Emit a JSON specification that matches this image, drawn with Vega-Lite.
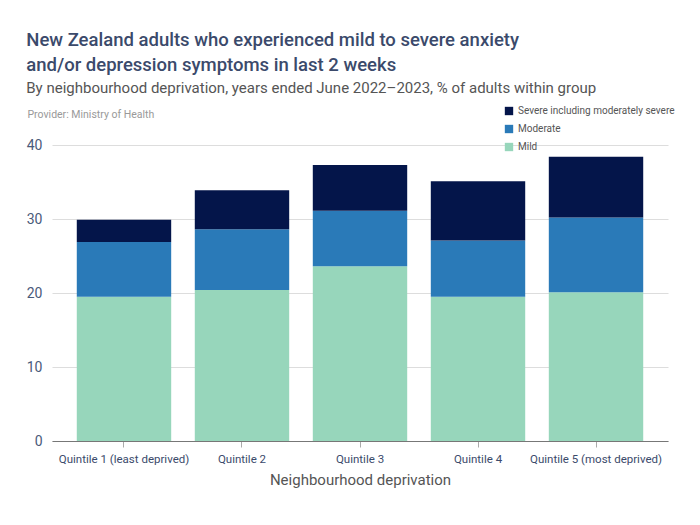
{
  "$schema": "https://vega.github.io/schema/vega-lite/v6.json",
  "autosize": "none",
  "width": 616,
  "height": 296,
  "padding": {"top": 145, "left": 52, "right": 32, "bottom": 84},
  "background": "white",
  "title": {
    "text": ["New Zealand adults who experienced mild to severe anxiety", "and/or depression symptoms in last 2 weeks"],
    "subtitle": "By neighbourhood deprivation, years ended June 2022–2023, % of adults within group",
    "anchor": "start",
    "frame": "bounds",
    "font": "Roboto",
    "fontSize": 18.5,
    "fontWeight": 500,
    "lineHeight": 25,
    "color": "#3b4a6b",
    "subtitleFont": "Roboto",
    "subtitleFontSize": 15,
    "subtitleColor": "#555555",
    "subtitlePadding": 7,
    "offset": 10
  },
  "config": {
    "view": {"stroke": null},
    "font": "Roboto"
  },
  "data": {
    "values": [
      {"group": "Quintile 1 (least deprived)", "category": "Mild", "order": 1, "value": 19.5},
      {"group": "Quintile 1 (least deprived)", "category": "Moderate", "order": 2, "value": 7.4},
      {"group": "Quintile 1 (least deprived)", "category": "Severe including moderately severe", "order": 3, "value": 3.0},
      {"group": "Quintile 2", "category": "Mild", "order": 1, "value": 20.4},
      {"group": "Quintile 2", "category": "Moderate", "order": 2, "value": 8.2},
      {"group": "Quintile 2", "category": "Severe including moderately severe", "order": 3, "value": 5.3},
      {"group": "Quintile 3", "category": "Mild", "order": 1, "value": 23.6},
      {"group": "Quintile 3", "category": "Moderate", "order": 2, "value": 7.5},
      {"group": "Quintile 3", "category": "Severe including moderately severe", "order": 3, "value": 6.2},
      {"group": "Quintile 4", "category": "Mild", "order": 1, "value": 19.5},
      {"group": "Quintile 4", "category": "Moderate", "order": 2, "value": 7.6},
      {"group": "Quintile 4", "category": "Severe including moderately severe", "order": 3, "value": 8.0},
      {"group": "Quintile 5 (most deprived)", "category": "Mild", "order": 1, "value": 20.1},
      {"group": "Quintile 5 (most deprived)", "category": "Moderate", "order": 2, "value": 10.1},
      {"group": "Quintile 5 (most deprived)", "category": "Severe including moderately severe", "order": 3, "value": 8.2}
    ]
  },
  "mark": {"type": "bar"},
  "encoding": {
    "x": {
      "field": "group",
      "type": "nominal",
      "sort": null,
      "scale": {"paddingInner": 0.2, "paddingOuter": 0.21},
      "axis": {
        "title": "Neighbourhood deprivation",
        "titleFontSize": 15,
        "titleFontWeight": "normal",
        "titleColor": "#555555",
        "titlePadding": 8,
        "labelAngle": 0,
        "labelFontSize": 11.5,
        "labelColor": "#3b4a6b",
        "labelPadding": 6,
        "domainColor": "#777777",
        "tickColor": "#aaaaaa",
        "tickSize": 6
      }
    },
    "y": {
      "field": "value",
      "type": "quantitative",
      "stack": "zero",
      "scale": {"domain": [0, 40]},
      "axis": {
        "values": [0, 10, 20, 30, 40],
        "title": "Provider: Ministry of Health",
        "titleAngle": 0,
        "titleAlign": "left",
        "titleBaseline": "alphabetic",
        "titleX": -25,
        "titleY": -28,
        "titleFontSize": 10.5,
        "titleFontWeight": "normal",
        "titleColor": "#999999",
        "domain": false,
        "ticks": false,
        "labelFontSize": 14,
        "labelColor": "#4a5a7a",
        "labelPadding": 10,
        "gridColor": "#dddddd"
      }
    },
    "color": {
      "field": "category",
      "type": "nominal",
      "scale": {
        "domain": ["Severe including moderately severe", "Moderate", "Mild"],
        "range": ["#04154a", "#2a7ab8", "#97d6bb"]
      },
      "legend": {
        "title": null,
        "orient": "none",
        "legendX": 452,
        "legendY": -39,
        "symbolType": "square",
        "symbolSize": 70,
        "symbolStrokeWidth": 0,
        "labelFontSize": 10,
        "labelLimit": 400,
        "labelColor": "#555555",
        "rowPadding": 8,
        "labelOffset": 4
      }
    },
    "order": {"field": "order", "type": "quantitative"}
  }
}
